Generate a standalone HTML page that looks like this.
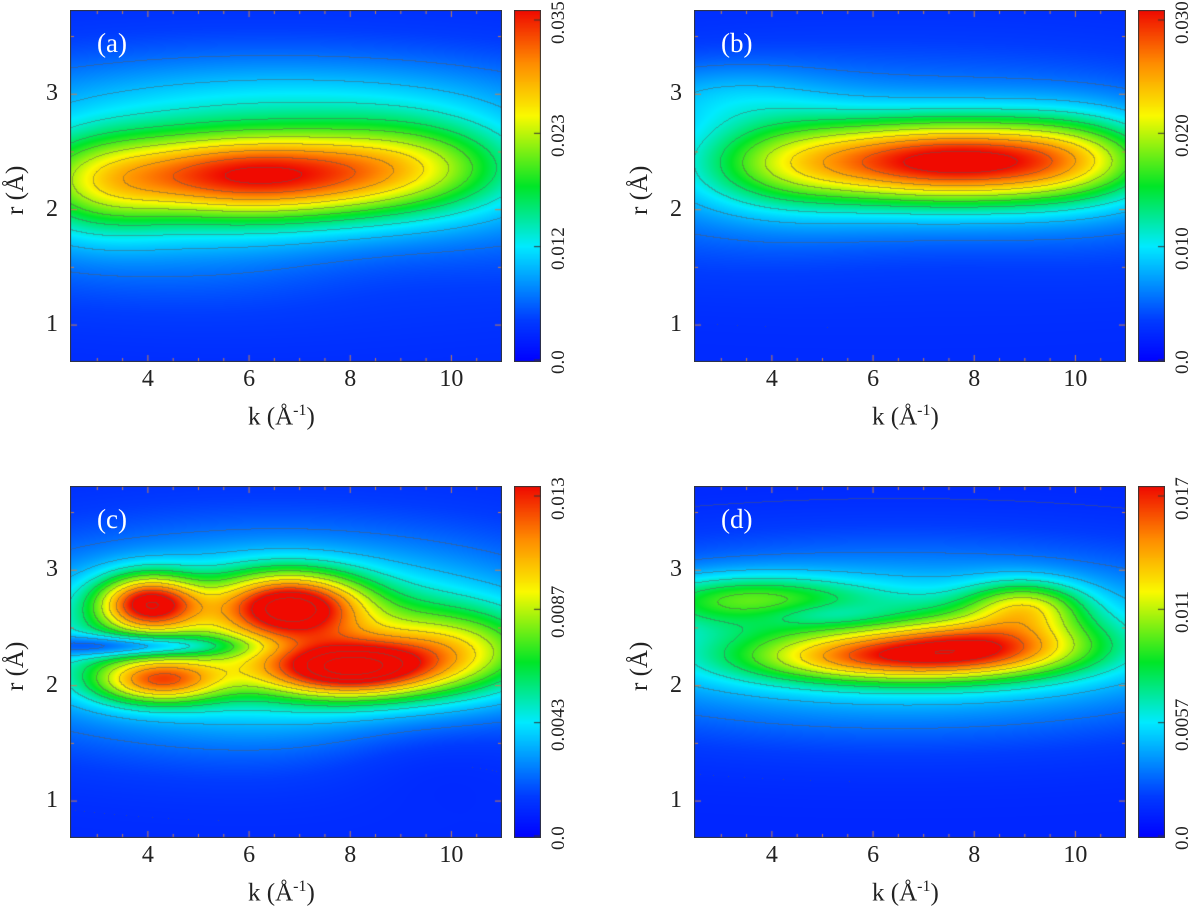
<!DOCTYPE html>
<html><head><meta charset="utf-8"><style>
body{margin:0;background:#fff;width:1200px;height:918px;position:relative;overflow:hidden;font-family:"Liberation Serif","DejaVu Serif",serif}
canvas{position:absolute}
.tick{position:absolute;font-family:"Liberation Serif",serif;font-size:24px;color:#222}
.cbl{position:absolute;font-family:"Liberation Serif",serif;font-size:19px;color:#222;transform:rotate(-90deg);transform-origin:left top;white-space:nowrap}
.plab{position:absolute;font-family:"Liberation Serif",serif;font-size:27px;color:#fff}
.ax{position:absolute;font-family:"Liberation Serif",serif;font-size:25px;color:#222;white-space:nowrap}
</style></head><body>
<script>
// axis ranges
const kMin = 2.46, kMax = 11.0, rMin = 0.68, rMax = 3.73;
const xTicks = [4, 6, 8, 10];
const yTicks = [1, 2, 3];
// panels
const panelNames = ["a", "b", "c", "d"];
const panelVmax = [0.0355, 0.031, 0.0132, 0.0175];
const panelBg = [0.003, 0.0026, 0.0011, 0.0013];
const cbLabels = [["0.0","0.012","0.023","0.035"],["0.0","0.010","0.020","0.030"],["0.0","0.0043","0.0087","0.013"],["0.0","0.0057","0.011","0.017"]];
// blob data per panel: k centre, r centre, amplitude, k width, r width
const blobK = [[6.0,9.3,3.0,6.0,7.0,8.5],[7.5,4.2,10.0,6.5,3.0,7.0],[4.0,6.8,7.9,4.2,6.5,10.0,3.8,9.5],[6.0,8.3,9.0,3.5,6.5,5.0]];
const blobR = [[2.3,2.4,2.2,2.3,3.0,1.6],[2.42,2.4,2.45,2.4,3.0,1.7],[2.72,2.7,2.15,2.05,2.4,2.3,2.35,1.5],[2.25,2.35,2.7,2.75,2.4,2.62]];
const blobA = [[0.022,0.009,0.007,0.0105,0.003,-0.0015],[0.022,0.006,0.006,0.0075,0.003,-0.001],[0.009,0.009,0.009,0.007,0.006,0.0045,-0.004,-0.0006],[0.008,0.008,0.006,0.005,0.006,-0.002]];
const blobSK = [[2.1,1.5,1.0,5.0,4.0,2.0],[2.1,1.2,1.2,5.0,1.5,2.5],[0.7,1.0,1.2,0.9,4.0,1.3,1.5,1.5],[1.8,1.5,0.8,1.5,5.0,1.0]];
const blobSR = [[0.25,0.28,0.3,0.6,0.25,0.3],[0.24,0.28,0.28,0.55,0.2,0.3],[0.17,0.2,0.17,0.14,0.55,0.25,0.07,0.3],[0.15,0.18,0.15,0.15,0.5,0.08]];
const plotX = [70, 694, 70, 694], plotY = [10, 10, 486, 486], PW = 432, PH = 352;

function xS(k){return (k - kMin)/(kMax - kMin)*PW;}
function yS(r){return (rMax - r)/(rMax - rMin)*PH;}
const cmapStops = [[0,0,0,255],[0.12,0,60,255],[0.33,0,235,255],[0.5,0,230,40],[0.7,250,250,0],[0.85,255,140,0],[1,240,10,0]];
function cmap(t){t=Math.max(0,Math.min(1,t));for(let i=1;i<cmapStops.length;i++){const a=cmapStops[i-1],b=cmapStops[i];if(t<=b[0]){const f=(t-a[0])/(b[0]-a[0]);return [a[1]+(b[1]-a[1])*f,a[2]+(b[2]-a[2])*f,a[3]+(b[3]-a[3])*f];}}return [240,10,0];}
function val(p,k,r){let v=panelBg[p];for(let i=0;i<blobK[p].length;i++){const dk=(k-blobK[p][i])/blobSK[p][i],dr=(r-blobR[p][i])/blobSR[p][i];v+=blobA[p][i]*Math.exp(-0.5*(dk*dk+dr*dr));}return Math.max(0,v);}

for(let p=0;p<4;p++){
  const cv=document.createElement('canvas');cv.width=PW;cv.height=PH;
  cv.style.left=plotX[p]+'px';cv.style.top=plotY[p]+'px';
  
  
  document.body.appendChild(cv);
  const ctx=cv.getContext('2d');const img=ctx.createImageData(PW,PH);
  const vm=panelVmax[p];const lev=new Int16Array(PW*PH);const vals=new Float32Array(PW*PH);
  for(let y=0;y<PH;y++){const r=rMax-(y/PH)*(rMax-rMin);for(let x=0;x<PW;x++){const k=kMin+(x/PW)*(kMax-kMin);const v=val(p,k,r)/vm;vals[y*PW+x]=v;lev[y*PW+x]=Math.floor(v*11);}}
  for(let y=0;y<PH;y++)for(let x=0;x<PW;x++){const i=y*PW+x;let c=cmap(vals[i]);
    const edge=(x>0&&lev[i-1]!=lev[i])||(y>0&&lev[i-PW]!=lev[i]);
    if(edge&&lev[i]>=1){c=[c[0]*0.55+40,c[1]*0.55+40,c[2]*0.55+40];}
    img.data[i*4]=c[0];img.data[i*4+1]=c[1];img.data[i*4+2]=c[2];img.data[i*4+3]=255;}
  ctx.putImageData(img,0,0);
  ctx.strokeStyle='#c88050';ctx.lineWidth=1;
  for(let k=3;k<=11;k+=0.5){const x=xS(k);const L=(k%2===0)?7:4;ctx.beginPath();ctx.moveTo(x,0);ctx.lineTo(x,L);ctx.moveTo(x,PH);ctx.lineTo(x,PH-L);ctx.stroke();}
  for(let r=1;r<=3.5;r+=0.5){const y=yS(r);const L=(r%1===0)?7:4;ctx.beginPath();ctx.moveTo(0,y);ctx.lineTo(L,y);ctx.moveTo(PW,y);ctx.lineTo(PW-L,y);ctx.stroke();}
  ctx.strokeStyle='#333';ctx.strokeRect(0.5,0.5,PW-1,PH-1);
  // colorbar
  const cb=document.createElement('canvas');cb.width=27;cb.height=PH;cb.style.left=(plotX[p]+444)+'px';cb.style.top=plotY[p]+'px';
  
  
  document.body.appendChild(cb);const c2=cb.getContext('2d');
  for(let y=0;y<PH;y++){const c=cmap(1-y/PH);c2.fillStyle=`rgb(${c[0]|0},${c[1]|0},${c[2]|0})`;c2.fillRect(0,y,27,1);}
  c2.strokeStyle='#333';c2.strokeRect(0.5,0.5,26,PH-1);
  for(let i=0;i<4;i++){const y=PH-(i/3)*(PH-12)-2;c2.beginPath();c2.moveTo(27,y);c2.lineTo(20,y);c2.stroke();
    const t=document.createElement('div');t.className='cbl';t.textContent=cbLabels[p][i];
    
    
    document.body.appendChild(t);const w=cbLabels[p][i].length*9.5;
    t.style.left=(plotX[p]+478)+'px';t.style.top=(plotY[p]+y+w/2)+'px';}
  // tick labels
  for(const k of xTicks){const t=document.createElement('div');t.className='tick';t.textContent=k;
    
    
    document.body.appendChild(t);const w=String(k).length*12;t.style.left=(plotX[p]+xS(k)-w/2)+'px';t.style.top=(plotY[p]+PH+4)+'px';}
  for(const r of yTicks){const t=document.createElement('div');t.className='tick';t.textContent=r;
    
    
    document.body.appendChild(t);t.style.left=(plotX[p]-24)+'px';t.style.top=(plotY[p]+yS(r)-14)+'px';}
  const pl=document.createElement('div');pl.className='plab';pl.textContent='('+panelNames[p]+')';
  
  
  document.body.appendChild(pl);pl.style.left=(plotX[p]+27)+'px';pl.style.top=(plotY[p]+18)+'px';
  const xl=document.createElement('div');xl.className='ax';xl.innerHTML='k (Å<sup style="font-size:16px">-1</sup>)';
  
  
  document.body.appendChild(xl);xl.style.left=(plotX[p]+178)+'px';xl.style.top=(plotY[p]+392)+'px';
  const yl=document.createElement('div');yl.className='ax';yl.textContent='r (Å)';yl.style.transform='rotate(-90deg)';yl.style.transformOrigin='left top';
  
  
  document.body.appendChild(yl);yl.style.left=(plotX[p]-68)+'px';yl.style.top=(plotY[p]+205)+'px';
}
</script>
</body></html>
